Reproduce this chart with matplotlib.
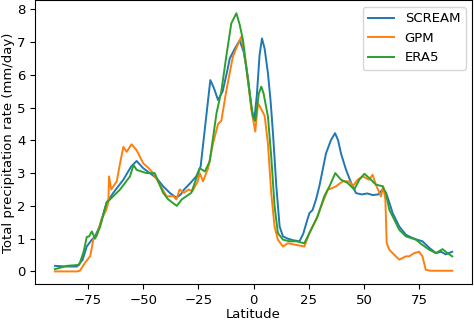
import matplotlib
matplotlib.use('Agg')
import matplotlib.pyplot as plt

# Zonal mean precipitation
scream_lat = [-90, -85, -80, -77.5, -75.6, -73.5, -71.8, -69.6, -66.6, -63, -59, -55.5, -53, -50,
              -47, -44, -41, -38, -35, -33, -31.5, -28.6, -26, -24, -22, -19.6, -18, -16.1, -14,
              -12, -10.8, -8.5, -6.3, -4.5, -2.5, -1, 0.3, 1.5, 2.7, 3.8, 5, 6.5, 7.7, 8.8, 10.3,
              11.8, 13.3, 15.5, 18, 20.8, 22.5, 24, 25.3, 26.7, 28.3, 29.8, 31.3, 32.8, 35, 36.9,
              38.3, 39.6, 41.9, 44.2, 46.4, 49, 51.5, 54, 56.5, 58.4, 60, 61.5, 63, 66, 69, 71,
              73.5, 76.5, 79.6, 82.6, 85, 87, 90]
scream_val = [0.17, 0.15, 0.15, 0.35, 0.76, 0.95, 1.07, 1.4, 2.1, 2.45, 2.8, 3.2, 3.37, 3.15,
              3.0, 2.85, 2.6, 2.4, 2.25, 2.35, 2.5, 2.7, 2.9, 3.2, 4.4, 5.84, 5.6, 5.23, 5.5,
              6.1, 6.5, 6.8, 7.05, 6.7, 5.9, 5.0, 4.6, 5.4, 6.6, 7.11, 6.8, 6.05, 5.2, 4.2, 2.6,
              1.37, 1.07, 1.0, 0.95, 0.92, 1.15, 1.5, 1.78, 1.87, 2.2, 2.6, 3.1, 3.6, 4.0, 4.22,
              4.0, 3.6, 3.1, 2.7, 2.39, 2.35, 2.38, 2.33, 2.35, 2.5, 2.4, 2.1, 1.78, 1.37, 1.12,
              1.05, 0.98, 0.92, 0.72, 0.56, 0.6, 0.52, 0.6]

gpm_lat = [-90, -85, -80, -78.7, -76.4, -74, -72.6, -71, -69, -66.8, -65.8, -65.5, -64.5, -62,
           -60.5, -59, -57.5, -55.3, -53, -50, -47.5, -45.5, -42.5, -39.4, -36.4, -35, -33.5,
           -31.5, -29.5, -27.7, -25.3, -24.4, -22.9, -20.6, -18.4, -16.1, -14.6, -12.4, -9.4,
           -7.6, -5.6, -4.5, -3.3, -1.0, 0.75, 2, 3.5, 5, 6.5, 8, 9.5, 11, 13.3, 15.5, 19.3,
           23, 25.3, 28.3, 31.3, 33.6, 35.8, 37.4, 40.4, 43.4, 44.9, 47.2, 49.4, 52.4, 53.9,
           55.4, 57.7, 58.7, 59.7, 60.3, 61.5, 63.7, 66, 69, 70.5, 72.8, 75, 76.5, 78, 80, 85, 90]
gpm_val = [0.0, 0.0, 0.0, 0.02, 0.26, 0.47, 0.98, 1.1, 1.58, 1.87, 2.1, 2.9, 2.5, 2.75,
           3.3, 3.8, 3.65, 3.88, 3.7, 3.3, 3.15, 3.0, 2.65, 2.29, 2.3, 2.2, 2.5, 2.4, 2.5,
           2.45, 2.75, 3.0, 2.75, 3.15, 3.9, 4.5, 4.6, 5.5, 6.55, 6.85, 7.16, 6.8, 6.25,
           4.93, 4.27, 5.13, 4.95, 4.75, 3.9, 2.38, 1.37, 0.97, 0.76, 0.86, 0.81, 0.76,
           1.17, 1.58, 2.1, 2.49, 2.55, 2.6, 2.75, 2.75, 2.6, 2.8, 2.9, 2.8, 2.95, 2.65,
           2.29, 2.6, 2.2, 0.87, 0.66, 0.51, 0.36, 0.46, 0.46, 0.56, 0.6, 0.46, 0.05, 0.02,
           0.02, 0.02]

era5_lat = [-90, -84.6, -79, -77, -75.6, -74.5, -73.3, -71.8, -69.6, -66.6, -65, -60.5, -56,
            -54.4, -53, -48.5, -44.8, -41, -38.7, -34.8, -32.5, -28.2, -24.4, -22.1, -19.9,
            -16.8, -14.6, -12.4, -10.1, -7.8, -6.3, -4.8, -2.6, -0.3, 0.75, 2.4, 3.5, 4.5,
            6.5, 8, 9.5, 11, 13.3, 16.3, 19.3, 23, 26, 29, 32, 34.4, 37, 39.6, 42.6, 45.6,
            47.9, 50.2, 52.4, 55.4, 58.4, 59.9, 61.5, 63, 66, 69, 73.5, 76.5, 79.6, 82.6,
            85.6, 87.8, 90]
era5_val = [0.07, 0.17, 0.2, 0.6, 1.05, 1.07, 1.22, 1.0, 1.35, 2.1, 2.2, 2.5, 2.9,
            3.25, 3.1, 3.0, 3.0, 2.4, 2.2, 2.0, 2.2, 2.4, 3.15, 3.05, 3.35,
            4.83, 5.5, 6.55, 7.57, 7.88, 7.53, 7.06, 5.84, 4.73, 4.6, 5.44, 5.64, 5.44,
            4.73, 3.5, 2.0, 1.17, 0.97, 0.92, 0.92, 0.86, 1.27, 1.68, 2.29, 2.6, 3.0,
            2.8, 2.7, 2.5, 2.8, 2.98, 2.85, 2.65, 2.6, 2.4, 1.88, 1.68, 1.27, 1.07, 0.97,
            0.81, 0.66, 0.56, 0.68, 0.56, 0.46]


def main():
    plt.rcParams['font.size'] = 9.5
    fig = plt.figure(figsize=(4.74, 3.22), dpi=100)
    ax = fig.add_axes([0.074, 0.117, 0.922, 0.882])

    ax.plot(scream_lat, scream_val, color='#1f77b4', lw=1.4, label='SCREAM')
    ax.plot(gpm_lat, gpm_val, color='#ff7f0e', lw=1.4, label='GPM')
    ax.plot(era5_lat, era5_val, color='#2ca02c', lw=1.4, label='ERA5')

    ax.set_xticks([-75, -50, -25, 0, 25, 50, 75])
    ax.set_yticks(range(0, 9))
    ax.set_xlabel('Latitude', labelpad=1)
    # label sits tight against the tick labels, as in the reference
    ax.set_ylabel('Total precipitation rate (mm/day)', labelpad=1)
    ax.legend(loc='upper right')

    fig.savefig('out.png', dpi=100)


if __name__ == '__main__':
    main()
